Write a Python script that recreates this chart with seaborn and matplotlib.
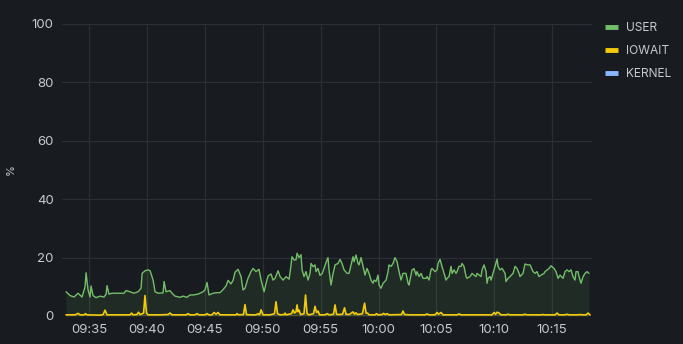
import matplotlib
matplotlib.use("Agg")
import matplotlib.pyplot as plt
from matplotlib.lines import Line2D
import pandas as pd
import seaborn as sns

# minutes after 09:33
user_t = [0, 0.35, 0.69, 1.04, 1.38, 1.64, 1.73, 1.90, 2.07, 2.16, 2.33, 2.59, 2.94, 3.28, 3.46, 3.54, 3.71,
          3.97, 4.32, 4.67, 5.01, 5.18, 5.53, 5.87, 6.22, 6.48, 6.57, 6.83, 7.08, 7.26, 7.52, 7.69, 7.95,
          8.38, 8.47, 8.64, 8.98, 9.16, 9.42, 9.85, 10.11, 10.45, 10.71, 10.97, 11.40, 11.84, 12.01, 12.18,
          12.35, 12.70, 13.05, 13.30, 13.56, 13.82, 14.00, 14.25, 14.43, 14.60, 14.86, 15.12, 15.29, 15.46,
          15.72, 15.98, 16.16, 16.41, 16.67, 16.85, 17.11, 17.28, 17.45, 17.71, 17.88, 18.06, 18.32, 18.49,
          18.75, 19.01, 19.27, 19.44, 19.52, 19.70, 19.87, 19.96, 20.13, 20.30, 20.39, 20.56, 20.73, 20.91,
          21.08, 21.17, 21.34, 21.51, 21.60, 21.77, 21.94, 22.12, 22.29, 22.46, 22.63, 22.72, 22.89, 23.07,
          23.24, 23.50, 23.67, 23.84, 24.02, 24.28, 24.45, 24.62, 24.79, 24.88, 25.05, 25.23, 25.31, 25.49,
          25.66, 25.83, 26.00, 26.18, 26.35, 26.52, 26.61, 26.78, 26.95, 27.04, 27.21, 27.39, 27.65, 27.82,
          27.90, 28.08, 28.25, 28.42, 28.60, 28.77, 28.94, 29.11, 29.37, 29.55, 29.63, 29.89, 30.06, 30.24,
          30.32, 30.50, 30.67, 30.84, 31.10, 31.19, 31.36, 31.53, 31.62, 31.88, 32.05, 32.14, 32.31, 32.48,
          32.66, 32.83, 32.92, 33.09, 33.26, 33.35, 33.52, 33.69, 33.78, 33.95, 34.13, 34.21, 34.38, 34.56,
          34.64, 34.90, 35.08, 35.25, 35.42, 35.51, 35.85, 35.94, 36.11, 36.29, 36.37, 36.46, 36.63, 36.72,
          36.89, 37.06, 37.24, 37.32, 37.49, 37.67, 37.93, 38.01, 38.19, 38.36, 38.62, 38.79, 38.96, 39.14,
          39.22, 39.48, 39.65, 39.91, 40.09, 40.35, 40.52, 40.69, 40.86, 41.04, 41.30, 41.38, 41.73, 41.90,
          42.16, 42.33, 42.51, 42.68, 42.94, 43.11, 43.28, 43.46, 43.63, 43.80, 43.97, 44.06, 44.23, 44.32,
          44.49, 44.67, 44.84, 45.01, 45.18]
user_v = [8.3, 7.0, 6.5, 7.8, 6.5, 10.0, 14.8, 9.0, 6.5, 10.3, 7.0, 6.3, 6.8, 6.5, 7.5, 10.4, 7.5,
          7.8, 7.8, 7.8, 7.8, 8.7, 8.3, 7.8, 8.3, 9.5, 14.6, 15.5, 15.8, 15.5, 12.3, 8.3, 7.8,
          7.9, 11.8, 8.3, 8.7, 7.8, 6.8, 6.4, 6.8, 6.4, 7.2, 7.2, 7.5, 8.3, 9.0, 11.5,
          7.2, 7.8, 8.0, 8.0, 9.0, 10.3, 12.2, 11.0, 12.2, 15.0, 16.0, 13.5, 8.9, 9.5,
          12.9, 15.2, 16.3, 15.2, 16.0, 12.3, 8.3, 11.2, 13.7, 14.4, 12.3, 12.9, 15.5, 13.5,
          12.3, 13.5, 12.6, 17.5, 20.3, 19.2, 19.2, 21.5, 20.0, 21.0, 15.8, 13.5, 15.2, 12.3,
          14.6, 18.0, 16.9, 17.5, 15.2, 16.3, 13.9, 14.5, 16.3, 18.3, 20.0, 15.8, 10.6, 14.6,
          17.5, 18.0, 19.4, 18.0, 15.8, 14.6, 14.6, 17.5, 20.3, 18.6, 20.9, 18.0, 17.5, 20.0,
          17.0, 14.0, 16.3, 14.6, 12.3, 11.2, 12.3, 11.8, 14.0, 10.6, 9.5, 11.2, 12.3, 15.2,
          17.5, 17.0, 18.0, 20.0, 18.6, 15.2, 12.3, 14.6, 14.6, 11.2, 10.6, 15.8, 16.2, 14.0,
          15.2, 13.5, 14.6, 12.9, 12.9, 13.5, 12.3, 15.8, 16.3, 15.2, 15.8, 18.0, 19.4, 17.0,
          14.6, 12.3, 12.9, 13.5, 17.0, 14.6, 15.8, 14.6, 15.2, 17.0, 17.0, 18.0, 17.0, 13.5,
          12.9, 13.5, 14.6, 14.0, 13.5, 14.6, 13.5, 15.8, 17.5, 15.2, 11.2, 12.9, 13.5, 12.3,
          14.6, 17.0, 19.5, 17.0, 15.8, 16.3, 14.6, 11.8, 12.9, 13.5, 14.6, 17.0, 16.3, 14.6,
          13.5, 14.6, 17.8, 17.5, 17.5, 15.2, 14.6, 15.2, 13.5, 14.0, 14.6, 15.2, 16.3, 17.2,
          16.3, 15.2, 12.9, 14.0, 12.9, 15.2, 15.8, 15.2, 15.8, 13.5, 12.3, 15.2, 15.2, 13.5,
          11.2, 13.5, 14.6, 15.2, 14.6]

iowait_t = [0, 0.78, 1.04, 1.21, 1.56, 1.68, 1.81, 2.94, 3.20, 3.37, 3.54, 4.32, 5.53, 5.66, 5.79, 6.13,
            6.26, 6.39, 6.70, 6.82, 6.95, 7.08, 8.12, 8.81, 8.98, 9.16, 10.37, 10.54, 10.71, 11.14, 11.32,
            11.49, 12.01, 12.18, 12.35, 12.61, 12.79, 12.96, 13.13, 13.30, 14.69, 14.77, 14.90, 15.33, 15.46,
            15.59, 15.90, 16.41, 16.59, 16.72, 16.85, 17.02, 17.62, 18.01, 18.14, 18.27, 18.49, 18.84, 18.92,
            19.01, 19.48, 19.61, 19.74, 19.87, 19.96, 20.04, 20.13, 20.26, 20.56, 20.69, 20.82, 20.99, 21.38,
            21.51, 21.64, 21.77, 21.90, 22.38, 22.55, 22.72, 23.11, 23.24, 23.37, 23.50, 23.89, 24.06, 24.19,
            24.45, 24.66, 24.79, 24.92, 25.05, 25.18, 25.61, 25.79, 25.92, 26.05, 26.18, 26.70, 26.82, 26.95,
            27.30, 27.43, 27.56, 27.73, 27.90, 28.98, 29.11, 29.24, 29.72, 31.01, 31.19, 31.36, 31.88, 32.05,
            32.18, 32.40, 32.57, 33.78, 33.95, 34.13, 36.80, 36.98, 37.11, 37.24, 37.41, 37.58, 38.01, 38.19,
            38.36, 39.48, 39.65, 39.83, 41.04, 41.21, 41.38, 42.25, 42.42, 42.59, 43.11, 43.28, 43.46, 44.23,
            44.41, 44.58, 44.93, 45.10, 45.27]
iowait_v = [0.4, 0.4, 0.9, 0.4, 0.4, 0.8, 0.4, 0.3, 0.5, 2.0, 0.4, 0.4, 0.4, 1.0, 0.4, 0.5,
            1.3, 0.5, 1.0, 7.0, 1.0, 0.4, 0.4, 0.5, 1.0, 0.4, 0.4, 0.8, 0.4, 0.4, 0.8,
            0.4, 0.4, 0.8, 0.4, 0.4, 1.2, 0.6, 1.2, 0.4, 0.4, 0.8, 0.4, 0.5, 3.9,
            0.5, 0.4, 0.4, 0.8, 0.4, 2.1, 0.4, 0.4, 0.8, 4.9, 0.8, 0.4, 0.5, 1.0,
            0.4, 0.8, 2.1, 1.0, 1.5, 3.8, 1.5, 2.0, 0.5, 0.8, 7.2, 0.8, 0.4, 0.8,
            3.3, 1.2, 1.7, 0.4, 0.4, 0.8, 0.4, 0.6, 3.8, 0.6, 0.5, 0.6, 2.8, 0.6,
            0.5, 1.0, 1.4, 0.6, 1.1, 0.5, 0.8, 4.4, 1.0, 1.0, 0.4, 0.4, 0.8, 0.4,
            0.5, 0.9, 0.5, 0.8, 0.4, 0.5, 1.7, 0.5, 0.4, 0.4, 0.7, 0.4, 0.4, 1.2,
            0.6, 1.2, 0.4, 0.4, 0.7, 0.4, 0.4, 1.2, 0.6, 1.3, 1.0, 0.4, 0.4, 0.6,
            0.4, 0.4, 0.6, 0.4, 0.4, 0.5, 0.4, 0.4, 1.0, 0.4, 0.4, 0.6, 0.4, 0.4,
            0.5, 0.4, 0.4, 1.0, 0.4]

kernel_t = [0, 9, 18, 27, 36, 45.27]
kernel_v = [0.1, 0.1, 0.1, 0.1, 0.1, 0.1]

series_names = ["USER", "IOWAIT", "KERNEL"]
series_colors = ["#73BF69", "#F2CC0C", "#8AB8FF"]

x_tick_pos = [2, 7, 12, 17, 22, 27, 32, 37, 42]
x_tick_labels = ["09:35", "09:40", "09:45", "09:50", "09:55", "10:00", "10:05", "10:10", "10:15"]
y_ticks = [0, 20, 40, 60, 80, 100]

BG = "#181b1f"
TXT = "#c7c9d1"
GRID = "#2b2e33"

sns.set_theme(style="dark")
plt.rcParams["font.family"] = ["Inter", "DejaVu Sans"]

fig = plt.figure(figsize=(6.83, 3.44), dpi=100, facecolor=BG)
ax = fig.add_axes([62/683, 1-316/344, (592-62)/683, (316-24)/344])
ax.set_facecolor(BG)

frames = [
    pd.DataFrame({"t": user_t, "v": user_v}),
    pd.DataFrame({"t": iowait_t, "v": iowait_v}),
    pd.DataFrame({"t": kernel_t, "v": kernel_v}),
]
widths = [1.0, 1.2, 1.0]
for i in [0, 2, 1]:
    df = frames[i]
    ax.fill_between(df["t"], df["v"], 0, color=series_colors[i], alpha=0.1, lw=0)
    sns.lineplot(data=df, x="t", y="v", ax=ax, color=series_colors[i], lw=widths[i],
                 estimator=None, legend=False)

ax.set_xlim(-0.35, 45.44)
ax.set_ylim(0, 100)
ax.set_xticks(x_tick_pos)
ax.set_xticklabels(x_tick_labels)
ax.set_yticks(y_ticks)
ax.set_yticklabels([str(v) for v in y_ticks])
ax.tick_params(axis="both", length=0, colors=TXT, labelsize=9.5)
ax.tick_params(axis="y", pad=6)
ax.tick_params(axis="x", pad=6)
ax.grid(True, color=GRID, lw=0.9)
for s in ax.spines.values():
    s.set_visible(False)
ax.set_xlabel("")
ax.set_ylabel("%", color=TXT, fontsize=8)
ax.yaxis.set_label_coords((16 - 62) / 530, 0.5)

handles = [Line2D([0], [0], color=c, lw=3.5, solid_capstyle="butt") for c in series_colors]
leg = fig.legend(handles, series_names, loc="upper left",
                 bbox_to_anchor=(594/683, 1-11/344), frameon=False,
                 fontsize=8.6, handlelength=1.15, handletextpad=0.65,
                 labelspacing=0.92, labelcolor=TXT)

fig.savefig("out.png", dpi=100, facecolor=BG)
